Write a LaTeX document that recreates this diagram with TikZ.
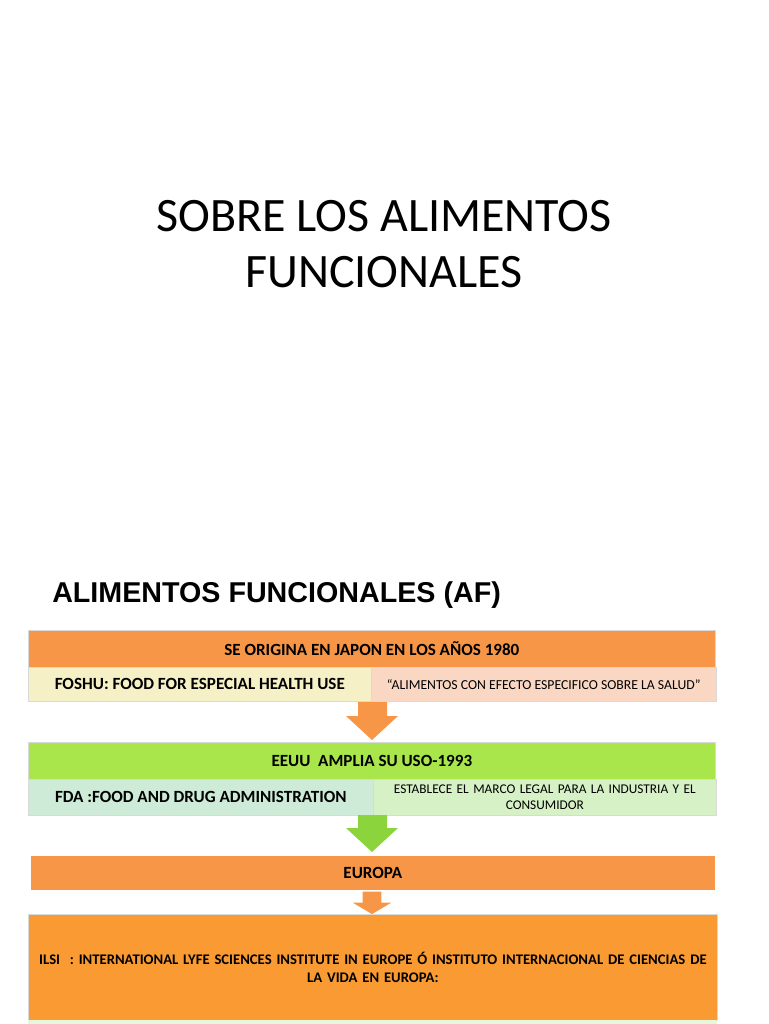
\documentclass[tikz,border=0pt]{standalone}
\usepackage{fontspec}
\setmainfont{Carlito}
\newfontfamily\hfont{Liberation Sans}
\definecolor{org}{HTML}{F79646}
\definecolor{org2}{HTML}{F99A32}
\definecolor{cream}{HTML}{F6F0C6}
\definecolor{peach}{HTML}{FAD7C3}
\definecolor{lime}{HTML}{A8E64C}
\definecolor{mint}{HTML}{CDEBD6}
\definecolor{lgreen}{HTML}{D5F1C5}
\definecolor{grn}{HTML}{8CD43C}
\begin{document}
\begin{tikzpicture}[x=0.75pt,y=-0.75pt,
  box/.style={draw=white!85!black,line width=0.5pt,inner sep=0pt,anchor=north west,align=center},
  arr/.style={fill=#1,draw=none}]
\useasboundingbox (0,0) rectangle (768,1024);
\node[font=\fontsize{36}{42}\selectfont,align=center] (title) at (384,244) {SOBRE LOS ALIMENTOS\\FUNCIONALES};
\node[font=\hfont\bfseries\fontsize{21.5}{26}\selectfont,anchor=west,inner sep=0pt] (head) at (52,595) {ALIMENTOS FUNCIONALES (AF)};
\node[box,fill=org,minimum width=687*0.75pt,minimum height=37*0.75pt,font=\bfseries\fontsize{12.8}{15}\selectfont] (b1) at (28,630) {SE ORIGINA EN JAPON EN LOS AÑOS 1980};
\node[box,fill=cream,minimum width=343*0.75pt,minimum height=34*0.75pt,font=\bfseries\fontsize{12.8}{15}\selectfont] (b1l) at (28,667) {FOSHU: FOOD FOR ESPECIAL HEALTH USE};
\node[box,fill=peach,minimum width=345*0.75pt,minimum height=34*0.75pt,font=\fontsize{10.3}{12}\selectfont] (b1r) at (371,667) {“ALIMENTOS CON EFECTO ESPECIFICO SOBRE LA SALUD”};
\fill[org] (358,702) -- (387,702) -- (387,716) -- (398,716) -- (372,740) -- (346,716) -- (358,716) -- cycle;
\node[box,fill=lime,minimum width=687*0.75pt,minimum height=37*0.75pt,font=\bfseries\fontsize{12.8}{15}\selectfont] (b2) at (28,742) {EEUU\ \ AMPLIA SU USO-1993};
\node[box,fill=mint,minimum width=345*0.75pt,minimum height=36*0.75pt,font=\bfseries\fontsize{12.8}{15}\selectfont] (b2l) at (28,779) {FDA :FOOD AND DRUG ADMINISTRATION};
\node[box,fill=lgreen,minimum width=343*0.75pt,minimum height=36*0.75pt,font=\fontsize{10}{11.5}\selectfont,text width=343*0.75pt] (b2r) at (373,779) {ESTABLECE EL MARCO LEGAL PARA LA INDUSTRIA Y EL\\CONSUMIDOR};
\fill[grn] (358,815) -- (387,815) -- (387,828) -- (398,828) -- (372,852) -- (346,828) -- (358,828) -- cycle;
\node[box,draw=white,line width=2pt,fill=org,minimum width=687*0.75pt,minimum height=37*0.75pt,font=\bfseries\fontsize{12.8}{15}\selectfont] (b3) at (28,853) {EUROPA};
\filldraw[fill=org,draw=white,line width=1pt] (362,891) -- (382,891) -- (382,902) -- (394,902) -- (372,915) -- (350,902) -- (362,902) -- cycle;
\node[box,fill=org2,minimum width=689*0.75pt,minimum height=106*0.75pt,text width=680*0.75pt,font=\bfseries\fontsize{11}{13}\selectfont] (b4) at (28,914) {ILSI\ \ : INTERNATIONAL LYFE SCIENCES INSTITUTE IN EUROPE Ó INSTITUTO INTERNACIONAL DE CIENCIAS DE\\LA VIDA EN EUROPA:};
\fill[lgreen!60!white] (28,1020) rectangle (717,1024);
\end{tikzpicture}
\end{document}
